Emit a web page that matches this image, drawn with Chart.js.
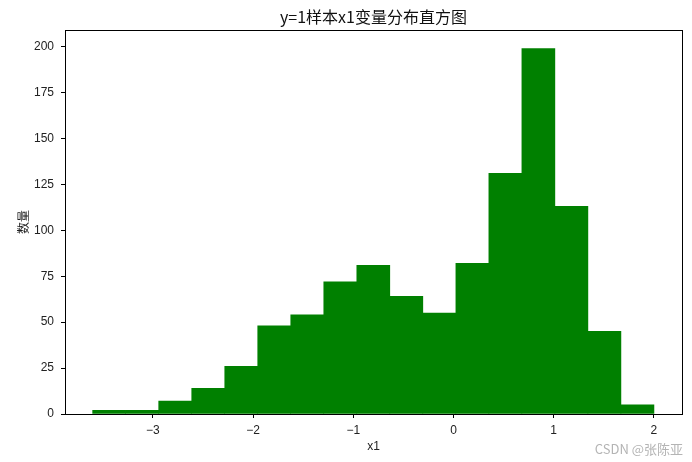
<!DOCTYPE html>
<html>
<head>
<meta charset="utf-8">
<script src="https://cdn.jsdelivr.net/npm/chart.js@4.4.1/dist/chart.umd.min.js"></script>
<style>
html,body{margin:0;padding:0;background:#fff;}
#wrap{position:relative;width:692px;height:462px;}
#wm{position:absolute;right:9px;top:439px;font:13px 'Noto Sans CJK SC',sans-serif;color:#b4b4b4;white-space:nowrap;}
</style>
</head>
<body>
<div id="wrap">
<canvas id="c" width="692" height="462"></canvas>
<div id="wm">CSDN @张陈亚</div>
</div>
<script>
// Histogram data
const binEdges = [-3.600,-3.271,-2.941,-2.612,-2.282,-1.953,-1.624,-1.294,-0.965,-0.635,-0.306,0.024,0.353,0.682,1.012,1.341,1.671,2.000];
const counts = [2,2,7,14,26,48,54,72,81,64,55,82,131,199,113,45,5];
const xTicks = [-3,-2,-1,0,1,2];
const yTicks = [0,25,50,75,100,125,150,175,200];
const titleText = 'y=1样本x1变量分布直方图';
const xLabel = 'x1';
const yLabel = '数量';

const points = counts.map((c,i)=>({x:(binEdges[i]+binEdges[i+1])/2, y:c}));
const tickFont = "'Liberation Sans','Noto Sans CJK SC',sans-serif";
const cjkFont = "'Noto Sans CJK SC',sans-serif";

const frame = {
  id:'frame',
  afterDatasetsDraw(chart){
    const a = chart.chartArea, ctx = chart.ctx;
    ctx.save();
    ctx.strokeStyle = '#000';
    ctx.lineWidth = 1;
    ctx.strokeRect(Math.round(a.left)+0.5, Math.round(a.top)+0.5, Math.round(a.right-a.left), Math.round(a.bottom-a.top));
    ctx.restore();
  }
};

new Chart(document.getElementById('c'), {
  type:'bar',
  data:{datasets:[{data:points, backgroundColor:'#008000', borderWidth:0, barPercentage:1, categoryPercentage:1}]},
  options:{
    responsive:false, animation:false,
    layout:{padding:{left:0,right:10,top:0,bottom:0}},
    plugins:{
      legend:{display:false}, tooltip:{enabled:false},
      title:{display:true, fullSize:false, text:titleText, color:'#111', font:{family:cjkFont, size:16, weight:'normal'}, padding:{top:7,bottom:4}}
    },
    scales:{
      x:{type:'linear', min:-3.876, max:2.28, offset:false,
        afterBuildTicks(s){ s.ticks = xTicks.map(v=>({value:v})); },
        afterFit(s){ s.height = 48; },
        grid:{offset:false, drawOnChartArea:false, drawTicks:true, tickLength:4, color:'#000'},
        border:{display:true, color:'#000'},
        ticks:{color:'#222', font:{family:tickFont, size:12}, padding:5, maxRotation:0,
          callback:(v)=> v<0 ? '\u2212'+Math.abs(v) : String(v)},
        title:{display:true, text:xLabel, color:'#222', font:{family:tickFont, size:12}, padding:{top:0,bottom:8}}
      },
      y:{type:'linear', min:0, max:208.95,
        afterBuildTicks(s){ s.ticks = yTicks.map(v=>({value:v})); },
        afterFit(s){ s.width = 65; },
        grid:{offset:false, drawOnChartArea:false, drawTicks:true, tickLength:4, color:'#000'},
        border:{display:true, color:'#000'},
        ticks:{color:'#222', font:{family:tickFont, size:12}, padding:7},
        title:{display:true, text:yLabel, color:'#222', font:{family:cjkFont, size:12}, padding:{top:16,bottom:0}}
      }
    }
  },
  plugins:[frame]
});
</script>
</body>
</html>
